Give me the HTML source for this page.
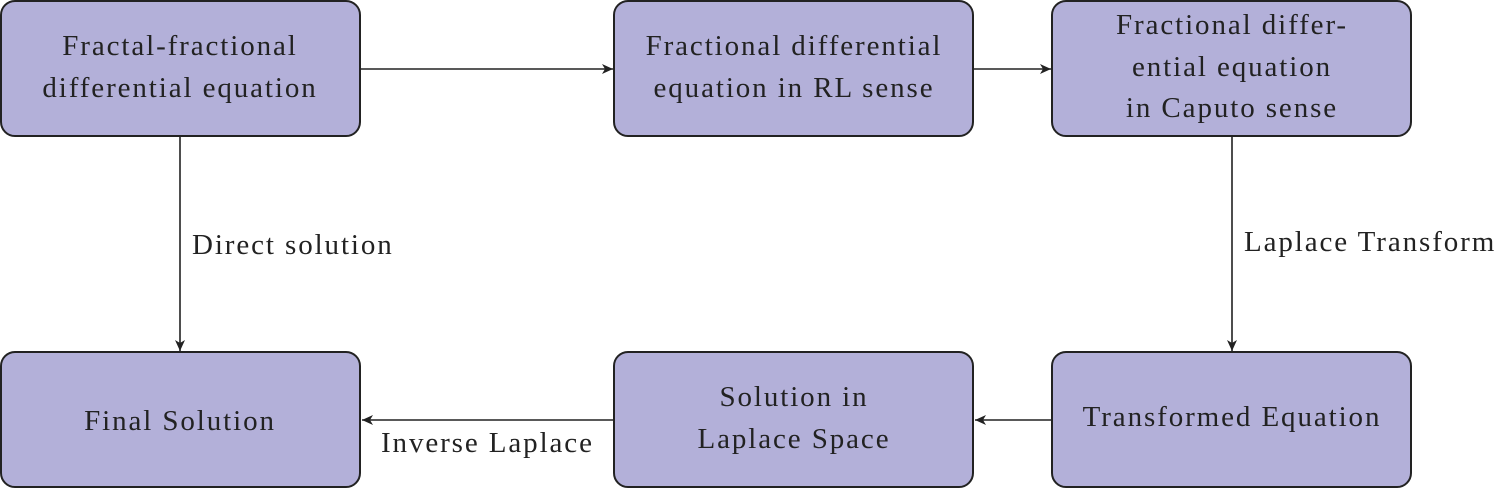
<!DOCTYPE html>
<html><head><style>body{margin:0;background:#fff}svg{display:block}text{font-family:"Liberation Serif",serif;font-size:29px;letter-spacing:1.9px;fill:#222}</style></head><body>
<svg width="1501" height="488" viewBox="0 0 1501 488">
<defs><marker id="a" markerWidth="12" markerHeight="10" refX="11" refY="5" orient="auto" markerUnits="userSpaceOnUse"><path d="M0,0 L11,5 L0,10 L3,5 Z" fill="#222"/></marker></defs>
<g fill="#b3b0d9" stroke="#222" stroke-width="2">
<rect x="1" y="1" width="359" height="135" rx="14"/>
<rect x="614" y="1" width="359" height="135" rx="14"/>
<rect x="1052" y="1" width="359" height="135" rx="14"/>
<rect x="1" y="352" width="359" height="135" rx="14"/>
<rect x="614" y="352" width="359" height="135" rx="14"/>
<rect x="1052" y="352" width="359" height="135" rx="14"/>
</g>
<g stroke="#222" stroke-width="1.6" fill="none" marker-end="url(#a)">
<line x1="361" y1="69" x2="613" y2="69"/>
<line x1="974" y1="69" x2="1051" y2="69"/>
<line x1="180" y1="137" x2="180" y2="351"/>
<line x1="1232" y1="137" x2="1232" y2="351"/>
<line x1="1051" y1="420" x2="975" y2="420"/>
<line x1="613" y1="420" x2="362" y2="420"/>
</g>
<g text-anchor="middle">
<text x="180" y="55">Fractal-fractional</text>
<text x="180" y="97">differential equation</text>
<text x="794" y="55">Fractional differential</text>
<text x="794" y="97">equation in RL sense</text>
<text x="1232" y="34">Fractional differ-</text>
<text x="1232" y="76">ential equation</text>
<text x="1232" y="117">in Caputo sense</text>
<text x="180" y="430">Final Solution</text>
<text x="794" y="406">Solution in</text>
<text x="794" y="448">Laplace Space</text>
<text x="1232" y="426">Transformed Equation</text>
</g>
<text x="192" y="254">Direct solution</text>
<text x="1244" y="251">Laplace Transform</text>
<text x="381" y="452">Inverse Laplace</text>
</svg>
</body></html>
